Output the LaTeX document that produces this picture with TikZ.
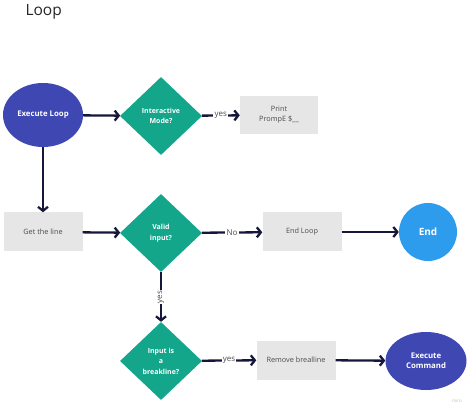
\documentclass[tikz,border=0pt]{standalone}
\usepackage{fontspec}
\setmainfont{Open Sans}
\usetikzlibrary{shapes.geometric,arrows.meta}

\definecolor{indigo}{HTML}{3F47B3}
\definecolor{teal}{HTML}{13A68A}
\definecolor{skyblue}{HTML}{2E9CEC}
\definecolor{boxgray}{HTML}{E6E6E6}
\definecolor{linenavy}{HTML}{16163A}
\definecolor{textgray}{HTML}{4A4A4A}

\begin{document}
\begin{tikzpicture}[x=1pt,y=-1pt,
  startnode/.style={ellipse, fill=indigo, text=white, font=\fontsize{7.8}{10}\selectfont\bfseries, inner sep=0pt},
  decide/.style={diamond, fill=teal, text=white, font=\fontsize{7}{10.5}\selectfont\bfseries, align=center,
    minimum width=82pt, minimum height=78pt, inner sep=0pt},
  graybox/.style={rectangle, fill=boxgray, text=textgray, font=\fontsize{7.3}{10}\selectfont, align=center,
    minimum width=79pt, minimum height=39pt, inner sep=0pt},
  flow/.style={linenavy, line width=2.3pt, -{Straight Barb[length=4pt,width=10pt,line width=2.3pt]}},
  lbl/.style={fill=white, text=textgray, font=\fontsize{8}{9}\selectfont, inner sep=1.2pt}]
\useasboundingbox (0,0) rectangle (474,414);

% title
\node [anchor=west, font=\fontsize{15.5}{18}\selectfont, text=black!85] (title) at (22,12) {Loop};

% first row
\node [startnode, minimum width=80pt, minimum height=64pt] (exec) at (43,115) {Execute Loop};
\node [decide] (interactive) at (161,116) {Interactive\\Mode?};
\node [graybox, minimum width=78pt, minimum height=38pt] (print) at (279,115) {Print\\PrompE \$\_\_};

% second row
\node [graybox] (getline) at (43,232) {Get the line};
\node [decide] (valid) at (161,233) {Valid\\input?};
\node [graybox] (endloop) at (302,232) {End Loop};
\node [circle, fill=skyblue, text=white, font=\fontsize{10}{12}\selectfont\bfseries,
  minimum size=58pt, inner sep=0pt] (end) at (428,232) {End};

% third row
\node [decide] (breakline) at (161,361) {Input is\\a\\breakline?};
\node [graybox] (remove) at (296,360) {Remove brealline};
\node [startnode, minimum width=81pt, minimum height=58pt, align=center] (command) at (426,361) {Execute\\Command};

% connectors
\draw [flow] (exec) -- (interactive);
\draw [flow] (interactive) -- node [lbl] {yes} (print);
\draw [flow] (exec) -- (getline);
\draw [flow] (getline) -- (valid);
\draw [flow] (valid) -- node [lbl] {No} (endloop);
\draw [flow] (endloop) -- (end);
\draw [flow] (valid) -- node [lbl, rotate=90] {yes} (breakline);
\draw [flow] (breakline) -- node [lbl] {yes} (remove);
\draw [flow] (remove) -- (command);

% watermark
\node [text=black!25, font=\fontsize{4.5}{5}\selectfont] (miro) at (457,401) {miro};

\end{tikzpicture}
\end{document}
